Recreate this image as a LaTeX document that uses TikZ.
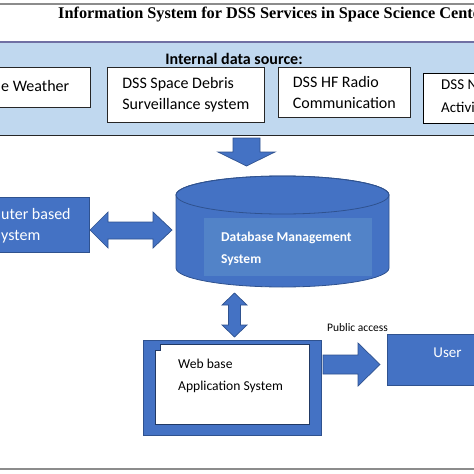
\documentclass[tikz,border=0pt]{standalone}
\usepackage{fontspec}
\setmainfont{Carlito}
\newfontfamily\titlefont{Liberation Serif}
\usetikzlibrary{calc}
\definecolor{mblue}{HTML}{4472C4}
\definecolor{dblue}{HTML}{2F528F}
\definecolor{lblue}{HTML}{C0D8EF}
\definecolor{iblue}{HTML}{5283C8}
\definecolor{rulegray}{HTML}{8C8C8C}
\tikzset{
  srcbox/.style={draw=black!85, fill=white, line width=0.7pt, inner sep=0pt, align=left,
    font=\fontsize{16}{21}\selectfont},
  bluebox/.style={fill=mblue, draw=dblue, line width=0.9pt, inner sep=0pt},
  blockarrow/.style={fill=mblue, draw=dblue, line width=0.7pt, line join=miter},
  wtext/.style={text=white, inner sep=0pt, align=left},
}
\begin{document}
\begin{tikzpicture}[x=1pt,y=-1pt]
\useasboundingbox (0,0) rectangle (474,474);
\clip (0,0) rectangle (474,474);
\fill[white] (0,0) rectangle (474,474);
% rules
\coordinate (tl) at (0,4); \coordinate (tr) at (474,4);
\draw[rulegray, line width=1.2pt] (tl) -- (tr);
\coordinate (bl) at (0,469); \coordinate (br) at (474,469);
\draw[rulegray, line width=1.2pt] (bl) -- (br);
% title
\node[anchor=base west, inner sep=0pt, font=\titlefont\bfseries\fontsize{16.3}{18}\selectfont] (title) at (58,18.5) {Information System for DSS Services in Space Science Cente};
% band
\node[fill=lblue, anchor=north west, minimum width=478, minimum height=93, inner sep=0pt] (band) at (-2,42) {};
\draw[color=rulegray!80!blue, line width=1.3pt] (band.north west) -- (band.north east);
\draw[color=black!85, line width=1.1pt] (band.south west) -- (band.south east);
\node[anchor=base, inner sep=0pt, font=\bfseries\fontsize{16}{18}\selectfont] (intlabel) at (234,64) {Internal data source:};
% source boxes
\node[srcbox, anchor=north west, minimum width=92, minimum height=40] (weather) at (-2,67) {};
\node[anchor=base west, inner sep=0pt, font=\fontsize{16}{20}\selectfont] (weathertxt) at (1,91) {e Weather};
\node[srcbox, anchor=north west, minimum width=157, minimum height=55] (debris) at (107,67) {DSS Space Debris\\Surveillance system};
\node[srcbox, anchor=north west, minimum width=132, minimum height=50] (hf) at (278,67) {DSS HF Radio\\Communication};
\node[srcbox, draw=black, line width=1.3pt, anchor=north west, minimum width=60, minimum height=50] (nact) at (423,73) {};
\node[anchor=base west, inner sep=0pt, align=left, font=\fontsize{15}{23}\selectfont] (nacttxt) at (441,112) {DSS N\\Activit};
% down arrow band -> db
\path[blockarrow] (233,138) -- (260,138) -- (260,152) -- (275,152) -- (246.5,166) -- (218,152) -- (233,152) -- cycle;
% database cylinder
\coordinate (dbtop) at (282.5,195);
\path[fill=mblue, draw=dblue, line width=0.8pt] (176,195) -- (176,268)
  arc[start angle=180, end angle=0, x radius=106.5, y radius=19] -- (389,195)
  arc[start angle=0, end angle=-180, x radius=106.5, y radius=19] -- cycle;
\draw[dblue, line width=0.8pt] (dbtop) ellipse[x radius=106.5, y radius=19];
\node[fill=iblue, anchor=north west, minimum width=168, minimum height=58, inner sep=0pt] (db) at (204,218) {};
\node[wtext, anchor=base west, font=\bfseries\fontsize{13.5}{21.5}\selectfont] (dbtxt) at (221,263) {Database Management\\System};
% computer based system
\node[bluebox, anchor=north west, minimum width=91, minimum height=55] (cbs) at (-2,197) {};
\node[wtext, anchor=base west, font=\fontsize{16}{21.5}\selectfont] (cbstxt) at (1,240.5) {uter based\\ystem};
% double arrow cbs <-> db
\path[blockarrow] (90,230) -- (108,212) -- (108,222) -- (153,222) -- (153,212) -- (172,230)
  -- (153,248) -- (153,239) -- (108,239) -- (108,248) -- cycle;
% vertical double arrow db <-> web
\path[blockarrow] (234.5,293) -- (247,305) -- (240.5,305) -- (240.5,325) -- (247,325) -- (234.5,337)
  -- (222,325) -- (228.5,325) -- (228.5,305) -- (222,305) -- cycle;
% web base application system
\node[bluebox, anchor=north west, minimum width=178, minimum height=95] (web) at (143,340) {};
\path[fill=white, draw=dblue!70!black, line width=0.5pt] (160,344) -- (309,344) -- (309,424) -- (155,424) -- (155,350) -- (160,350) -- cycle;
\node[anchor=base west, inner sep=0pt, align=left, font=\fontsize{13.6}{22.5}\selectfont] (webtxt) at (178,390.5) {Web base\\Application System};
% right arrow web -> user
\path[blockarrow] (323,355) -- (358,355) -- (358,343) -- (380,364.5) -- (358,386) -- (358,374) -- (323,374) -- cycle;
\node[anchor=base west, inner sep=0pt, font=\fontsize{11.5}{13}\selectfont] (pub) at (327,331) {Public access};
% user
\node[bluebox, anchor=north west, minimum width=95, minimum height=51] (user) at (387,334) {};
\node[wtext, anchor=base, font=\fontsize{15}{17}\selectfont] (usertxt) at (447.5,357) {User};
\end{tikzpicture}
\end{document}
